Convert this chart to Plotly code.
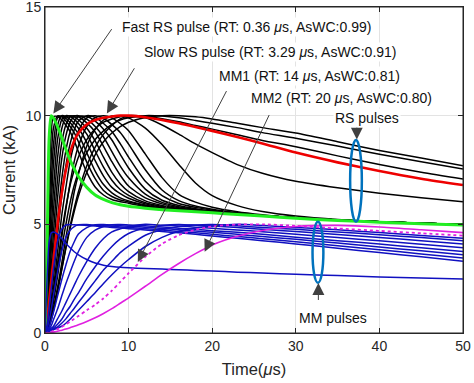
import plotly.graph_objects as go

# ---------------- data ----------------
time_us = [0, 0.25, 0.5, 0.75, 1, 1.5, 2, 2.5, 3, 3.5, 4, 5, 6, 7, 8, 9, 10,
           12, 14, 16, 18, 20, 23, 26, 30, 35, 40, 45, 50]

# RS pulses (kA), black family
rs_b01 = [0, 3.0, 7.07, 9.25, 9.95, 9.96, 9.81, 9.56, 9.27, 8.84, 8.34, 7.39, 6.72, 6.35, 6.14, 6.04, 5.97, 5.81, 5.72, 5.66, 5.61, 5.56, 5.48, 5.40, 5.30, 5.20, 5.12, 5.05, 4.99]
rs_b02 = [0, 2.14, 5.53, 8.06, 9.4, 9.99, 9.94, 9.75, 9.5, 9.21, 8.8, 7.86, 7.1, 6.56, 6.28, 6.12, 6.03, 5.85, 5.72, 5.66, 5.61, 5.56, 5.48, 5.40, 5.30, 5.20, 5.12, 5.05, 4.99]
rs_b03 = [0, 1.6, 4.4, 6.9, 8.6, 9.9, 9.98, 9.88, 9.69, 9.44, 9.15, 8.29, 7.45, 6.83, 6.45, 6.22, 6.08, 5.89, 5.75, 5.66, 5.61, 5.56, 5.48, 5.40, 5.30, 5.20, 5.12, 5.05, 4.99]
rs_b04 = [0, 1.2, 3.5, 5.85, 7.7, 9.55, 10.0, 9.96, 9.83, 9.65, 9.42, 8.76, 7.93, 7.22, 6.7, 6.41, 6.2, 5.94, 5.78, 5.67, 5.61, 5.56, 5.48, 5.40, 5.30, 5.20, 5.12, 5.05, 4.99]
rs_b05 = [0, 0.87, 2.66, 4.7, 6.55, 8.9, 9.82, 10.0, 9.96, 9.83, 9.64, 9.15, 8.38, 7.63, 7.03, 6.6, 6.33, 5.99, 5.82, 5.7, 5.61, 5.56, 5.48, 5.40, 5.30, 5.20, 5.12, 5.05, 4.99]
rs_b06 = [0, 0.7, 2.14, 3.86, 5.53, 8.06, 9.4, 9.94, 10.0, 9.95, 9.81, 9.42, 8.84, 8.09, 7.39, 6.87, 6.51, 6.08, 5.87, 5.73, 5.62, 5.56, 5.48, 5.40, 5.30, 5.20, 5.12, 5.05, 4.99]
rs_b07 = [0, 0.6, 1.7, 3.0, 4.55, 7.07, 8.74, 9.58, 9.96, 10.0, 9.95, 9.67, 9.25, 8.59, 7.88, 7.26, 6.76, 6.22, 5.94, 5.76, 5.65, 5.56, 5.48, 5.40, 5.30, 5.20, 5.12, 5.05, 4.99]
rs_b08 = [0, 0.5, 1.35, 2.45, 3.75, 6.2, 8.0, 9.08, 9.7, 9.97, 10.0, 9.84, 9.5, 9.02, 8.34, 7.68, 7.14, 6.39, 6.01, 5.81, 5.68, 5.59, 5.48, 5.40, 5.30, 5.20, 5.12, 5.05, 4.99]
rs_b09 = [0, 0.45, 1.0, 2.0, 3.0, 5.2, 7.07, 8.4, 9.25, 9.73, 9.96, 9.96, 9.75, 9.38, 8.88, 8.22, 7.59, 6.62, 6.11, 5.87, 5.72, 5.61, 5.49, 5.40, 5.30, 5.20, 5.12, 5.05, 4.99]
rs_b10 = [0, 0.4, 0.8, 1.65, 2.5, 4.5, 6.3, 7.7, 8.7, 9.35, 9.75, 10.0, 9.92, 9.64, 9.27, 8.71, 8.09, 6.98, 6.32, 5.96, 5.78, 5.65, 5.50, 5.40, 5.30, 5.20, 5.12, 5.05, 4.99]
rs_b11 = [0, 0.34, 0.7, 1.3, 2.0, 3.7, 5.4, 6.7, 7.9, 8.72, 9.3, 9.9, 10.0, 9.88, 9.59, 9.23, 8.69, 7.51, 6.58, 6.09, 5.84, 5.69, 5.53, 5.40, 5.30, 5.20, 5.12, 5.05, 4.99]
rs_b12 = [0, 0.3, 0.6, 1.0, 1.6, 2.9, 4.4, 5.7, 6.9, 7.9, 8.6, 9.5, 9.91, 10.0, 9.9, 9.64, 9.31, 8.23, 7.15, 6.38, 6.02, 5.79, 5.58, 5.44, 5.30, 5.20, 5.12, 5.05, 4.99]
rs_b13 = [0, 0.23, 0.47, 0.7, 1.1, 2.1, 3.2, 4.4, 5.45, 6.5, 7.3, 8.6, 9.37, 9.8, 9.98, 9.98, 9.9, 9.43, 8.67, 7.75, 6.9, 6.32, 5.86, 5.59, 5.38, 5.22, 5.12, 5.05, 4.99]
rs_b14 = [0, 0.2, 0.45, 0.75, 1.1, 1.95, 2.95, 3.95, 4.9, 5.75, 6.5, 7.7, 8.55, 9.15, 9.55, 9.85, 9.97, 9.9, 9.57, 9.15, 8.7, 8.3, 7.75, 7.35, 6.98, 6.68, 6.43, 6.22, 6.04]
rs_b15 = [0, 0.2, 0.6, 1.1, 1.8, 3.2, 4.6, 5.8, 6.8, 7.5, 8.1, 8.9, 9.4, 9.7, 9.85, 9.95, 10.0, 9.97, 9.86, 9.72, 9.55, 9.38, 9.12, 8.86, 8.57, 8.15, 7.75, 7.4, 7.09]
rs_b16 = [0, 0.15, 0.45, 0.9, 1.4, 2.6, 3.9, 5.0, 6.0, 6.8, 7.4, 8.3, 8.9, 9.3, 9.6, 9.8, 9.9, 10.0, 9.98, 9.9, 9.78, 9.65, 9.45, 9.22, 8.96, 8.6, 8.22, 7.88, 7.55]
rs_b17 = [0, 0.1, 0.3, 0.6, 1.0, 1.9, 2.9, 3.9, 4.8, 5.6, 6.3, 7.4, 8.2, 8.8, 9.2, 9.5, 9.7, 9.92, 10.0, 10.0, 9.95, 9.85, 9.65, 9.45, 9.2, 8.8, 8.4, 8.05, 7.70]

slow_rs_red = [0, 0.6, 1.5, 2.4, 3.3, 5.0, 6.4, 7.5, 8.3, 8.85, 9.2, 9.6, 9.8, 9.9, 9.96, 10.0, 10.0, 9.93, 9.8, 9.65, 9.48, 9.3, 9.02, 8.72, 8.3, 7.85, 7.45, 7.1, 6.81]
fast_rs_green = [0, 4.0, 9.0, 10.0, 9.9, 9.5, 9.0, 8.45, 7.95, 7.55, 7.2, 6.7, 6.35, 6.15, 6.0, 5.9, 5.83, 5.74, 5.67, 5.62, 5.58, 5.53, 5.45, 5.38, 5.28, 5.18, 5.1, 5.03, 4.97]

# MM pulses (kA), blue family
mm_hump = [0, 2.5, 4.2, 4.6, 4.65, 4.55, 4.35, 4.12, 3.92, 3.74, 3.6, 3.38, 3.22, 3.12, 3.06, 3.02, 3.0, 2.97, 2.94, 2.91, 2.88, 2.85, 2.8, 2.76, 2.7, 2.64, 2.58, 2.53, 2.48]
mm_b1 = [0, 0.37, 1.17, 2.05, 2.9, 4.2, 4.78, 4.97, 4.99, 4.98, 4.97, 4.95, 4.92, 4.89, 4.86, 4.83, 4.80, 4.74, 4.67, 4.61, 4.54, 4.46, 4.36, 4.25, 4.10, 3.90, 3.70, 3.51, 3.30]
mm_b2 = [0, 0.2, 0.6, 1.1, 1.7, 2.8, 3.75, 4.4, 4.73, 4.9, 4.98, 4.99, 4.96, 4.94, 4.91, 4.88, 4.86, 4.80, 4.74, 4.67, 4.61, 4.54, 4.44, 4.34, 4.20, 4.02, 3.83, 3.64, 3.45]
mm_b3 = [0, 0.12, 0.28, 0.6, 0.93, 1.7, 2.45, 3.13, 3.75, 4.2, 4.55, 4.85, 4.98, 4.99, 4.97, 4.94, 4.92, 4.87, 4.81, 4.75, 4.69, 4.63, 4.54, 4.44, 4.31, 4.14, 3.96, 3.78, 3.6]
mm_b4 = [0, 0.1, 0.2, 0.34, 0.6, 1.1, 1.7, 2.28, 2.8, 3.3, 3.75, 4.4, 4.73, 4.9, 4.98, 4.99, 4.97, 4.93, 4.88, 4.82, 4.77, 4.71, 4.63, 4.54, 4.41, 4.25, 4.09, 3.92, 3.75]
mm_b5 = [0, 0.07, 0.15, 0.22, 0.3, 0.65, 1.0, 1.4, 1.8, 2.2, 2.6, 3.3, 3.9, 4.35, 4.65, 4.79, 4.9, 5.0, 4.96, 4.92, 4.87, 4.82, 4.74, 4.66, 4.54, 4.39, 4.24, 4.08, 3.92]
mm_b6 = [0, 0.05, 0.12, 0.17, 0.23, 0.4, 0.63, 0.95, 1.22, 1.55, 1.85, 2.5, 3.05, 3.55, 3.98, 4.33, 4.58, 4.83, 4.95, 4.99, 4.96, 4.92, 4.85, 4.77, 4.67, 4.53, 4.39, 4.25, 4.1]
mm_b7 = [0, 0.05, 0.1, 0.14, 0.19, 0.28, 0.45, 0.65, 0.9, 1.14, 1.4, 1.9, 2.4, 2.9, 3.3, 3.7, 4.0, 4.5, 4.75, 4.9, 4.97, 4.99, 4.93, 4.86, 4.77, 4.65, 4.52, 4.39, 4.25]
mm_b8 = [0, 0.04, 0.08, 0.12, 0.15, 0.23, 0.31, 0.45, 0.63, 0.84, 1.05, 1.45, 1.85, 2.28, 2.68, 3.05, 3.38, 3.98, 4.4, 4.68, 4.83, 4.92, 5.0, 4.95, 4.86, 4.75, 4.62, 4.49, 4.36]

mm1_magenta_dot = [0, 0.01, 0.03, 0.06, 0.1, 0.18, 0.28, 0.4, 0.52, 0.65, 0.78, 1.05, 1.3, 1.6, 1.95, 2.35, 2.75, 3.5, 4.1, 4.5, 4.75, 4.9, 4.99, 5.0, 4.93, 4.81, 4.7, 4.59, 4.48]
mm2_magenta = [0, 0.0, 0.01, 0.02, 0.04, 0.08, 0.13, 0.18, 0.24, 0.31, 0.38, 0.53, 0.7, 0.9, 1.12, 1.37, 1.62, 2.15, 2.7, 3.2, 3.65, 4.05, 4.45, 4.72, 4.9, 4.95, 4.88, 4.75, 4.62]

x_ticks = [0, 10, 20, 30, 40, 50]
y_ticks = [0, 5, 10, 15]

black_rs = [rs_b01, rs_b02, rs_b03, rs_b04, rs_b05, rs_b06, rs_b07, rs_b08, rs_b09,
            rs_b10, rs_b11, rs_b12, rs_b13, rs_b14, rs_b15, rs_b16, rs_b17]
blue_mm = [mm_hump, mm_b1, mm_b2, mm_b3, mm_b4, mm_b5, mm_b6, mm_b7, mm_b8]

# ---------------- figure ----------------
FONT = "Liberation Sans, Arial, Helvetica, sans-serif"
fig = go.Figure()

def add(vals, color, width, dash="solid"):
    fig.add_trace(go.Scatter(x=time_us, y=vals, mode="lines",
                             line=dict(color=color, width=width, dash=dash,
                                       shape="spline", smoothing=0.7),
                             hoverinfo="skip", showlegend=False))

for c in black_rs:
    add(c, "#000000", 1.5)
add(slow_rs_red, "#ee0000", 2.6)
add(fast_rs_green, "#22ee22", 3)
for c in blue_mm:
    add(c, "#1010c0", 1.5)
add(mm1_magenta_dot, "#e020e0", 1.8, "dot")
add(mm2_magenta, "#e020e0", 1.6)

# plot frame
fig.add_shape(type="rect", xref="paper", yref="paper", x0=0, x1=1, y0=0, y1=1,
              layer="above", line=dict(color="#262626", width=1))

# ellipses
ell = dict(type="circle", xref="x", yref="y", layer="above",
           line=dict(color="#0072BD", width=2.5))
fig.add_shape(x0=36.5, x1=37.9, y0=5.12, y1=8.88, **ell)
fig.add_shape(x0=32.0, x1=33.3, y0=2.31, y1=5.12, **ell)

# arrows
arrow_style = dict(showarrow=True, text="", axref="x", ayref="y", xref="x", yref="y",
                   arrowhead=2, arrowsize=2.4, arrowwidth=1, arrowcolor="#404040")
for (x, y, ax, ay) in [(1.0, 10.1, 8.1, 14.05), (7.4, 10.1, 10.8, 12.25),
                       (11.1, 3.27, 21.8, 11.2), (19.1, 3.74, 26.9, 10.1),
                       (37.3, 8.9, 37.3, 9.55), (32.7, 2.3, 32.7, 1.45)]:
    fig.add_annotation(x=x, y=y, ax=ax, ay=ay, **arrow_style)

# texts
txt = dict(showarrow=False, xref="x", yref="y", bgcolor="white", borderpad=1,
           font=dict(family=FONT, size=14, color="#111111"), yanchor="middle")
fig.add_annotation(x=8.97, y=14.08, xanchor="left",
                   text="Fast RS pulse (RT: 0.36 <i>μ</i>s, AsWC:0.99)", **txt)
fig.add_annotation(x=11.6, y=12.94, xanchor="left",
                   text="Slow RS pulse (RT: 3.29 <i>μ</i>s, AsWC:0.91)", **txt)
fig.add_annotation(x=20.57, y=11.83, xanchor="left",
                   text="MM1 (RT: 14 <i>μ</i>s, AsWC:0.81)", **txt)
fig.add_annotation(x=24.4, y=10.8, xanchor="left",
                   text="MM2 (RT: 20 <i>μ</i>s, AsWC:0.80)", **txt)
fig.add_annotation(x=38.5, y=9.89, xanchor="center", text="RS pulses", **txt)
fig.add_annotation(x=34.5, y=0.69, xanchor="center", text="MM pulses", **txt)

axis_common = dict(showline=True, linecolor="#262626", linewidth=1, mirror="ticks",
                   ticks="inside", ticklen=5, tickcolor="#262626", showgrid=True,
                   gridcolor="#e3e3e3", gridwidth=1, zeroline=False, automargin=False,
                   ticklabeloverflow="allow",
                   tickfont=dict(family=FONT, size=14, color="#262626"))
fig.update_xaxes(range=[0, 50], tickvals=x_ticks, **axis_common,
                 title=dict(text="Time(<i>μ</i>s)", standoff=10,
                            font=dict(family=FONT, size=16.5, color="#262626")))
fig.update_yaxes(range=[0, 15], tickvals=y_ticks, **axis_common,
                 title=dict(text="Current (kA)", standoff=6,
                            font=dict(family=FONT, size=16.5, color="#262626")))

fig.update_layout(width=474, height=383, margin=dict(l=45, r=11, t=7, b=50),
                  paper_bgcolor="white", plot_bgcolor="white",
                  font=dict(family=FONT))
fig.write_html("out.html", config={"displayModeBar": False},
               post_script="document.body.style.margin='0';"
                           "document.body.style.overflow='hidden';")
